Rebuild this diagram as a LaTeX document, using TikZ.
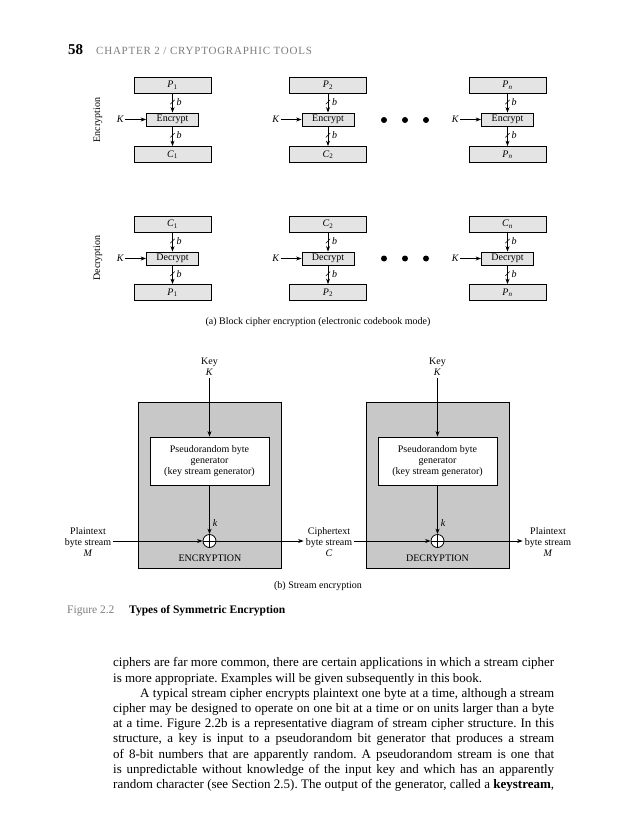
\documentclass[tikz,border=0pt]{standalone}
\usepackage{fontspec}
\setmainfont{Liberation Serif}
\usetikzlibrary{arrows.meta,calc}
\definecolor{lightbox}{RGB}{228,228,228}
\definecolor{darkbox}{RGB}{200,200,200}
\definecolor{capgray}{RGB}{125,125,125}
\tikzset{
 fig/.style={font=\fontsize{10}{11}\selectfont},
 blk/.style={fig, draw, fill=lightbox, line width=0.8pt, minimum width=77pt, minimum height=16pt, inner sep=0pt},
 opbox/.style={fig, draw, fill=lightbox, line width=0.8pt, minimum width=52pt, minimum height=13pt, inner sep=0pt},
 arr/.style={-{Stealth[length=5.5pt,width=4pt]}, line width=0.8pt},
 lbl/.style={fig, inner sep=1pt},
 dotnode/.style={circle, fill=black, minimum size=6pt, inner sep=0pt},
 slash/.style={line width=0.5pt},
 graybox/.style={draw, fill=darkbox, line width=0.8pt, minimum width=143pt, minimum height=166pt, inner sep=0pt},
 genbox/.style={fig, draw, fill=white, line width=0.8pt, minimum width=119pt, minimum height=48pt, inner sep=0pt, align=center},
 xor/.style={draw, circle, fill=white, line width=0.8pt, minimum size=13pt, inner sep=0pt,
   path picture={\draw[line width=0.8pt] (path picture bounding box.north) -- (path picture bounding box.south) (path picture bounding box.west) -- (path picture bounding box.east);}},
 streamlbl/.style={fig, align=center, inner sep=2pt},
}
\newcommand\bmark[2]{%
  \coordinate (mid) at ($(#1.south)!0.45!(#2.north)$);
  \draw[slash] ($(mid)+(-2.2,2.2)$) -- ($(mid)+(2.2,-2.2)$);
  \node[lbl, anchor=west] at ($(mid)+(3,0)$) {\textit{b}};}
\begin{document}
\begin{tikzpicture}[x=1pt,y=-1pt]
\fill[white] (0,0) rectangle (638,832);
\useasboundingbox (0,0) rectangle (638,832);

% header
\node[anchor=base west, inner sep=0pt, font=\bfseries\fontsize{15}{17}\selectfont] (pg) at (68,55) {58};
\node[anchor=base west, inner sep=0pt, text=capgray, font=\fontsize{11}{13}\selectfont\addfontfeature{LetterSpace=7}] (chap) at (96,55) {CHAPTER 2 / CRYPTOGRAPHIC TOOLS};

% block cipher: encryption row
\node[fig, rotate=90] (enclbl) at (98,120) {Encryption};
\node[fig, rotate=90] (declbl) at (98,258) {Decryption};
\foreach \i/\x/\pt/\ct in {1/172.5/{\textit{P}\textsubscript{1}}/{\textit{C}\textsubscript{1}},
                           2/328/{\textit{P}\textsubscript{2}}/{\textit{C}\textsubscript{2}},
                           3/507.5/{\textit{P}\textsubscript{\textit{n}}}/{\textit{P}\textsubscript{\textit{n}}}}{
  \node[blk] (ep\i) at (\x,85) {\pt};
  \node[opbox] (ee\i) at (\x,119.5) {Encrypt};
  \node[blk] (ec\i) at (\x,154.5) {\ct};
  \node[lbl] (ek\i) at (\x-52,119.5) {\textit{K}};
  \draw[arr] (ek\i) -- (ee\i);
  \draw[arr] (ep\i) -- (ee\i);
  \draw[arr] (ee\i) -- (ec\i);
  \bmark{ep\i}{ee\i}
  \bmark{ee\i}{ec\i}
}
\foreach \i/\x/\ct/\pt in {1/172.5/{\textit{C}\textsubscript{1}}/{\textit{P}\textsubscript{1}},
                           2/328/{\textit{C}\textsubscript{2}}/{\textit{P}\textsubscript{2}},
                           3/507.5/{\textit{C}\textsubscript{\textit{n}}}/{\textit{P}\textsubscript{\textit{n}}}}{
  \node[blk] (dc\i) at (\x,224) {\ct};
  \node[opbox] (dd\i) at (\x,258.5) {Decrypt};
  \node[blk] (dp\i) at (\x,292.5) {\pt};
  \node[lbl] (dk\i) at (\x-52,258.5) {\textit{K}};
  \draw[arr] (dk\i) -- (dd\i);
  \draw[arr] (dc\i) -- (dd\i);
  \draw[arr] (dd\i) -- (dp\i);
  \bmark{dc\i}{dd\i}
  \bmark{dd\i}{dp\i}
}
\foreach \j/\x in {1/384,2/405,3/426}{
  \node[dotnode] (edot\j) at (\x,120) {};
  \node[dotnode] (ddot\j) at (\x,258.5) {};
}
\node[fig] (capa) at (318,322) {(a) Block cipher encryption (electronic codebook mode)};

% stream cipher
\node[graybox] (g1) at (209.5,485) {};
\node[graybox] (g2) at (437.5,485) {};
\node[genbox] (gen1) at (209.5,461) {Pseudorandom byte\\generator\\(key stream generator)};
\node[genbox] (gen2) at (437.5,461) {Pseudorandom byte\\generator\\(key stream generator)};
\node[streamlbl] (key1) at (209.5,367) {Key\\\textit{K}};
\node[streamlbl] (key2) at (437.5,367) {Key\\\textit{K}};
\draw[arr] (key1) -- (gen1);
\draw[arr] (key2) -- (gen2);
\node[xor] (x1) at (209.5,541) {};
\node[xor] (x2) at (437.5,541) {};
\draw[arr] (gen1) -- (x1) node[pos=0.78, right, lbl, xshift=2pt] {\textit{k}};
\draw[arr] (gen2) -- (x2) node[pos=0.78, right, lbl, xshift=2pt] {\textit{k}};
\node[streamlbl] (pt1) at (88,542) {Plaintext\\byte stream\\\textit{M}};
\node[streamlbl] (ct) at (329,542) {Ciphertext\\byte stream\\\textit{C}};
\node[streamlbl] (pt2) at (548,542) {Plaintext\\byte stream\\\textit{M}};
\draw[arr] (pt1.east |- x1) -- (x1);
\draw[arr] (x1) -- (ct.west |- x1);
\draw[arr] (ct.east |- x2) -- (x2);
\draw[arr] (x2) -- (pt2.west |- x2);
\node[fig] (encw) at (210,558) {ENCRYPTION};
\node[fig] (decw) at (437.5,558) {DECRYPTION};
\node[fig] (capb) at (318,586) {(b) Stream encryption};

% figure caption
\node[anchor=base west, inner sep=0pt, text=capgray, font=\fontsize{11.5}{13}\selectfont] (fignum) at (67,613) {Figure 2.2};
\node[anchor=base west, inner sep=0pt, font=\bfseries\fontsize{11.5}{13}\selectfont] (figtitle) at (129,613) {Types of Symmetric Encryption};

% body text
\node[anchor=north west, inner sep=0pt, text width=441pt, align=justify, font=\fontsize{13}{15.2}\selectfont\frenchspacing] (body) at (113,657.5) {%
ciphers are far more common, there are certain applications in which a stream cipher\linebreak
is more appropriate. Examples will be given subsequently in this book.\par
\hspace*{27pt}A typical stream cipher encrypts plaintext one byte at a time, although a stream\linebreak
cipher may be designed to operate on one bit at a time or on units larger than a byte\linebreak
at a time. Figure 2.2b is a representative diagram of stream cipher structure. In this\linebreak
structure, a key is input to a pseudorandom bit generator that produces a stream\linebreak
of 8-bit numbers that are apparently random. A pseudorandom stream is one that\linebreak
is unpredictable without knowledge of the input key and which has an apparently\linebreak
random character (see Section 2.5). The output of the generator, called a \textbf{keystream},\parfillskip=0pt\par};
\end{tikzpicture}
\end{document}
